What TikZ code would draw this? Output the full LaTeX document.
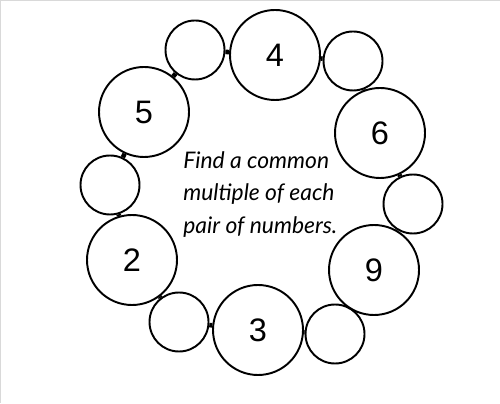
\documentclass[tikz,border=0pt]{standalone}
\usepackage{fontspec}
\newfontfamily\digitfont{Liberation Sans}
\newfontfamily\handfont{Lato}
\usetikzlibrary{calc}
\tikzset{big/.style={circle, draw, line width=1.1pt, minimum size=1.8cm, inner sep=0pt, font=\digitfont\fontsize{18.5}{18.5}\selectfont},
  small/.style={circle, draw, line width=1.1pt, minimum size=1.18cm, inner sep=0pt},
  link/.style={black, line width=2.6pt}}

\begin{document}
\begin{tikzpicture}  [scale=1]
\useasboundingbox (0,0) rectangle (10,8.06);
\draw[black!15, line width=1.2pt] (0,0) -- (0,8.06) -- (10,8.06);
\foreach \n/\x/\y in {4/5.5/6.96, 6/7.6/5.4, 9/7.48/2.66, 3/5.16/1.46, 2/2.64/2.86, 5/2.88/5.82} \node[big] (b\n) at (\x,\y) {\n};
\foreach \i/\x/\y in {1/3.9/7.06, 2/7.06/6.84, 3/8.26/3.98, 4/6.7/1.38, 5/3.58/1.62, 6/2.2/4.36} \node[small] (s\i) at (\x,\y) {};
\foreach \a/\b in {s1/b4, b4/s2, s2/b6, b6/s3, s3/b9, s4/b3, b3/s5, s5/b2, b2/s6, s6/b5, b5/s1} \draw[link] (\a) -- (\b);
\node[anchor=north west, inner sep=0pt, align=left, font=\handfont\itshape\fontsize{13}{18.6}\selectfont] (task) at (3.66,5.04) {Find a common\\multiple of each\\pair of numbers.};

\end{tikzpicture}
\end{document}
